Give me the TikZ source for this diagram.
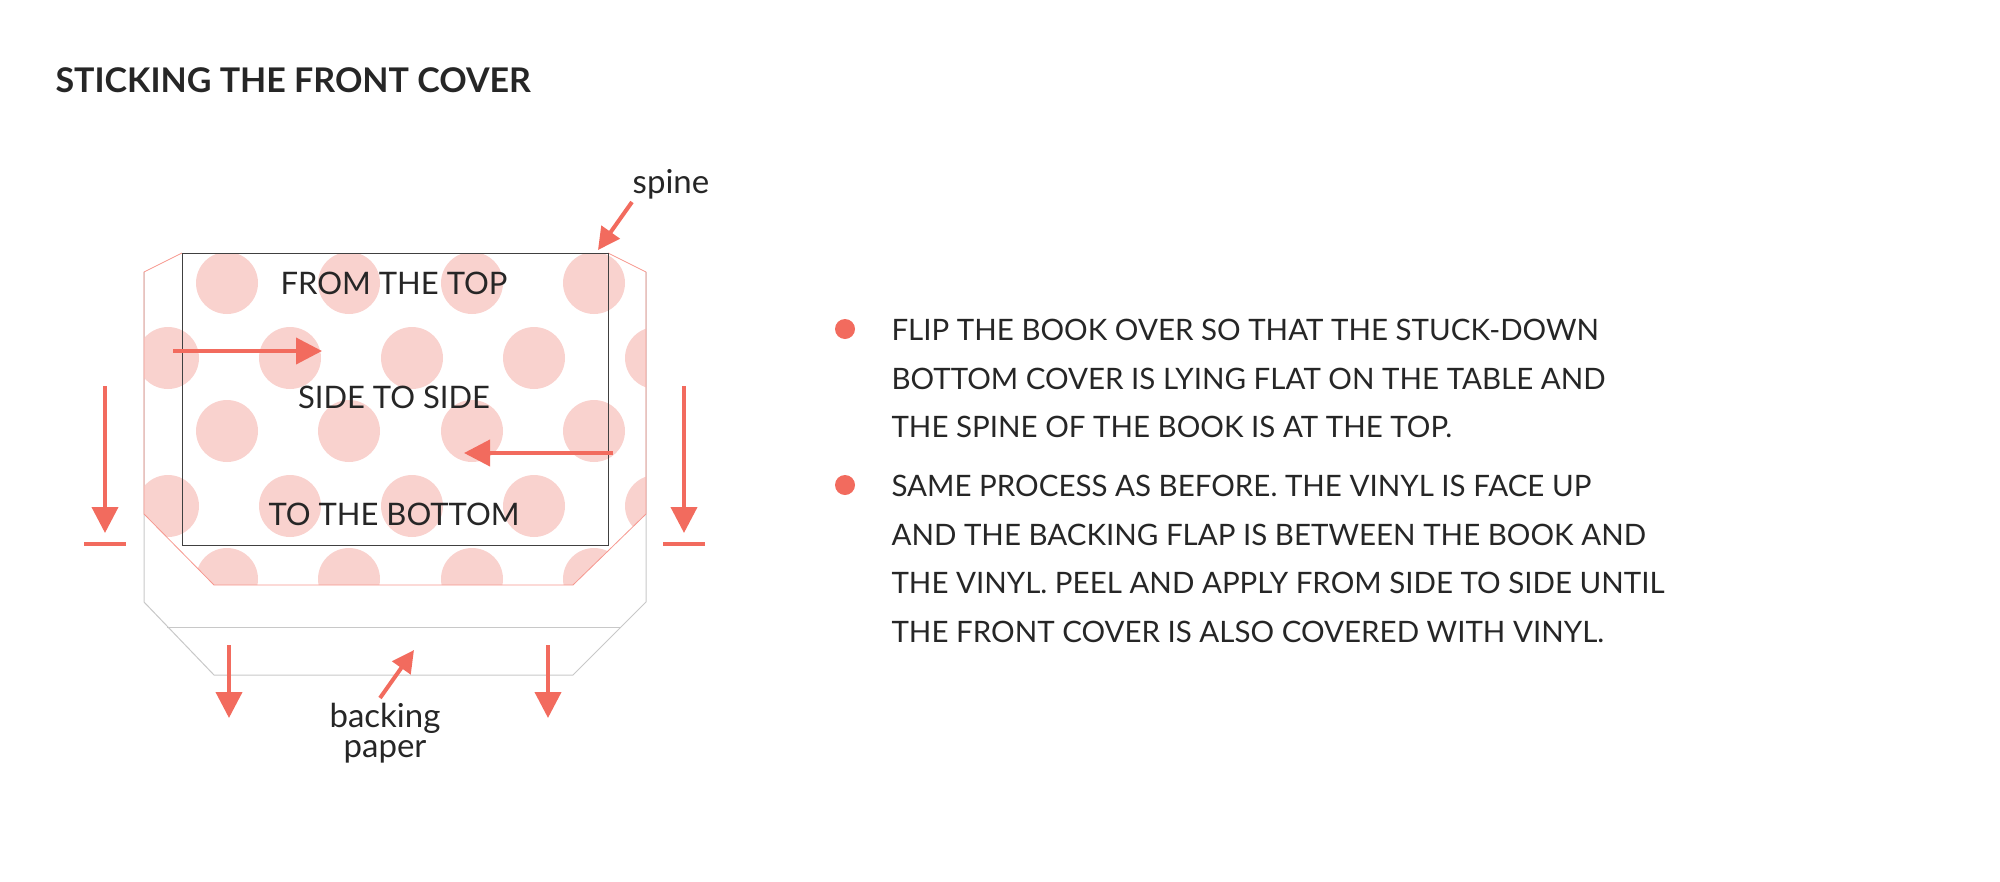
\documentclass[tikz,border=0pt]{standalone}
\usepackage{fontspec}
\setmainfont{Lato}
\usetikzlibrary{arrows.meta,positioning}
\definecolor{coral}{HTML}{F26B5E}
\definecolor{dot}{HTML}{F9D2CE}
\definecolor{paper}{HTML}{C8C8C8}
\tikzset{
  pull/.style={coral, line width=4pt, -{Triangle[width=26pt,length=26pt]}},
  label/.style={font=\fontsize{31}{36}\selectfont, text=black!85},
  point/.style={font=\fontsize{29.5}{48.5}\selectfont, text=black!85, align=left, anchor=north west}
}
\begin{document}
\begin{tikzpicture}[x=1pt,y=-1pt]
\useasboundingbox (0,0) rectangle (2000,881);
\node[anchor=west, font=\bfseries\fontsize{34}{40}\selectfont, text=black!85] (title) at (52,80) {STICKING THE FRONT COVER};

% backing paper
\draw[paper, line width=1pt] (144,272) -- (144,602) -- (214,675) -- (573,675) -- (646,602) -- (646,272);
\draw[paper, line width=1pt] (167,627) -- (621,627);
% vinyl with dots
\begin{scope}
  \clip (182,253) -- (144,272) -- (144,514) -- (214,585) -- (573,585) -- (646,514) -- (646,272) -- (608,253) -- cycle;
  \foreach \y in {283,431,579} \foreach \x in {227,349,472,594} \fill[dot] (\x,\y) circle (31);
  \foreach \y in {358,506} \foreach \x in {168,290,412,534,656} \fill[dot] (\x,\y) circle (31);
\end{scope}
\draw[coral!70, line width=0.8pt] (182,253) -- (144,272) -- (144,514) -- (214,585) -- (573,585) -- (646,514) -- (646,272) -- (608,253);
% book
\draw[black!75, line width=1pt] (182,253) rectangle (608,545);

\node[label] (top) at (394,283) {FROM THE TOP};
\node[label] (side) at (394,397) {SIDE TO SIDE};
\node[label] (bottom) at (394,514) {TO THE BOTTOM};

\coordinate (r1) at (173,351); \coordinate (r2) at (322,351);
\coordinate (l1) at (613,453); \coordinate (l2) at (464,453);
\draw[pull] (r1) -- (r2);
\draw[pull] (l1) -- (l2);

% press down
\foreach \x/\n in {105/a,684/b}{
  \coordinate (d\n) at (\x,386); \coordinate (e\n) at (\x,533);
  \draw[pull] (d\n) -- (e\n);
  \draw[coral, line width=4pt] (\x-21,544) -- (\x+21,544);
}
\foreach \x/\n in {229/c,548/f}{
  \coordinate (d\n) at (\x,645); \coordinate (e\n) at (\x,718);
  \draw[pull] (d\n) -- (e\n);
}

\node[font=\fontsize{33}{36}\selectfont, text=black!85] (spine) at (671,184) {spine};
\coordinate (s0) at (632,202); \coordinate (spinetip) at (598,250);
\draw[pull, -{Triangle[width=22pt,length=22pt]}] (s0) -- (spinetip);
\node[font=\fontsize{33}{30}\selectfont, text=black!85, align=center] (backing) at (385,733) {backing\\paper};
\coordinate (b0) at (380,698); \coordinate (backtip) at (414,650);
\draw[pull, -{Triangle[width=22pt,length=22pt]}] (b0) -- (backtip);

% instructions
\fill[coral] (845,329) circle (10);
\node[point] (p1) at (888,316) {FLIP THE BOOK OVER SO THAT THE STUCK-DOWN\\BOTTOM COVER IS LYING FLAT ON THE TABLE AND\\THE SPINE OF THE BOOK IS AT THE TOP.};
\fill[coral] (845,485) circle (10);
\node[point] (p2) at (888,472) {SAME PROCESS AS BEFORE. THE VINYL IS FACE UP\\AND THE BACKING FLAP IS BETWEEN THE BOOK AND\\THE VINYL. PEEL AND APPLY FROM SIDE TO SIDE UNTIL\\THE FRONT COVER IS ALSO COVERED WITH VINYL.};
\end{tikzpicture}
\end{document}
